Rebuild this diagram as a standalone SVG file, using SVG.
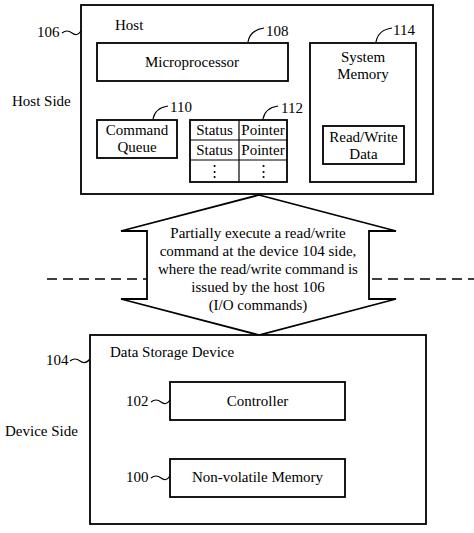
<svg xmlns="http://www.w3.org/2000/svg" width="474" height="533" viewBox="0 0 474 533" font-family="'Liberation Serif', 'Times New Roman', serif">
<defs>
<marker id="ah" viewBox="0 0 10 10" refX="9" refY="5" markerWidth="7" markerHeight="7" orient="auto-start-reverse" markerUnits="userSpaceOnUse">
<path d="M0,1 L10,5 L0,9 z" fill="#000"/>
</marker>
<style>
text{font-family:"Liberation Serif","Times New Roman",serif;font-size:15px;fill:#000}
.c{text-anchor:middle}
.b{fill:#fff;stroke:#000;stroke-width:1.8}
.ln{fill:none;stroke:#000;stroke-width:1.2}
.ar{fill:none;stroke:#000;stroke-width:1.5;marker-start:url(#ah);marker-end:url(#ah)}
</style>
</defs>
<rect width="474" height="533" fill="#fff"/>

<text x="12" y="106">Host Side</text>
<text x="5" y="436">Device Side</text>

<g id="connectors">
<line class="ar" x1="137" y1="82" x2="137" y2="119"/>
<line class="ar" x1="239" y1="82" x2="239" y2="119"/>
<line class="ar" x1="257" y1="421" x2="257" y2="458"/>
<line x1="47" y1="279" x2="146" y2="279" stroke="#000" stroke-width="1.4" stroke-dasharray="10,6"/>
<line x1="372" y1="279" x2="474" y2="279" stroke="#000" stroke-width="1.4" stroke-dasharray="10,6"/>
</g>

<g id="host">
<rect class="b" x="81" y="5" width="352" height="189"/>
<text x="115" y="30">Host</text>
<text x="37" y="37">106</text>
<path class="ln" d="M62,33 q5,-4 10,0 t9,-2"/>
</g>

<g id="microprocessor">
<rect class="b" x="97" y="43" width="191" height="38"/>
<text class="c" x="192" y="67">Microprocessor</text>
<path class="ln" d="M248,42 q2,-12 16,-14"/>
<text x="266" y="36">108</text>
</g>

<g id="command-queue">
<rect class="b" x="97" y="120" width="80" height="38"/>
<text class="c" x="137" y="135">Command</text>
<text class="c" x="137" y="152">Queue</text>
<path class="ln" d="M153,119 q2,-11 15,-13"/>
<text x="170" y="112">110</text>
</g>

<g id="status-table">
<rect class="b" x="190" y="120" width="97" height="62"/>
<line class="ln" x1="239" y1="120" x2="239" y2="182"/>
<line class="ln" x1="190" y1="140" x2="287" y2="140"/>
<line class="ln" x1="190" y1="160" x2="287" y2="160"/>
<text class="c" x="214.5" y="135">Status</text>
<text class="c" x="263" y="135">Pointer</text>
<text class="c" x="214.5" y="155">Status</text>
<text class="c" x="263" y="155">Pointer</text>
<text class="c" x="214.5" y="176">⋮</text>
<text class="c" x="263" y="176">⋮</text>
<path class="ln" d="M263,119 q2,-11 15,-13"/>
<text x="281" y="113">112</text>
</g>

<g id="system-memory">
<rect class="b" x="310" y="43" width="106" height="139"/>
<text class="c" x="363" y="62">System</text>
<text class="c" x="363" y="79">Memory</text>
<path class="ln" d="M376,42 q2,-12 16,-14"/>
<text x="393" y="35">114</text>
</g>

<g id="read-write-data">
<rect class="b" x="323" y="126" width="81" height="38"/>
<text class="c" x="363.5" y="142">Read/Write</text>
<text class="c" x="363.5" y="159">Data</text>
</g>

<g id="io-arrow">
<polygon class="b" points="259,195 396,231 369,231 369,299 396,299 259,335 121,299 147,299 147,231 121,231"/>
<text class="c" x="258" y="238">Partially execute a read/write</text>
<text class="c" x="258" y="256">command at the device 104 side,</text>
<text class="c" x="258" y="274">where the read/write command is</text>
<text class="c" x="258" y="292">issued by the host 106</text>
<text class="c" x="258" y="310">(I/O commands)</text>
</g>

<g id="data-storage-device">
<rect class="b" x="90" y="335" width="336" height="189"/>
<text x="110" y="357">Data Storage Device</text>
<text x="46" y="365">104</text>
<path class="ln" d="M70,361 q5,-4 10,0 t10,-2"/>
</g>

<g id="controller">
<rect class="b" x="170" y="382" width="175" height="38"/>
<text class="c" x="257.5" y="406">Controller</text>
<text x="126" y="406">102</text>
<path class="ln" d="M151,402 q5,-4 10,0 t9,-2"/>
</g>

<g id="non-volatile-memory">
<rect class="b" x="170" y="459" width="175" height="38"/>
<text class="c" x="257.5" y="482">Non-volatile Memory</text>
<text x="126" y="482">100</text>
<path class="ln" d="M151,478 q5,-4 10,0 t9,-2"/>
</g>
</svg>
